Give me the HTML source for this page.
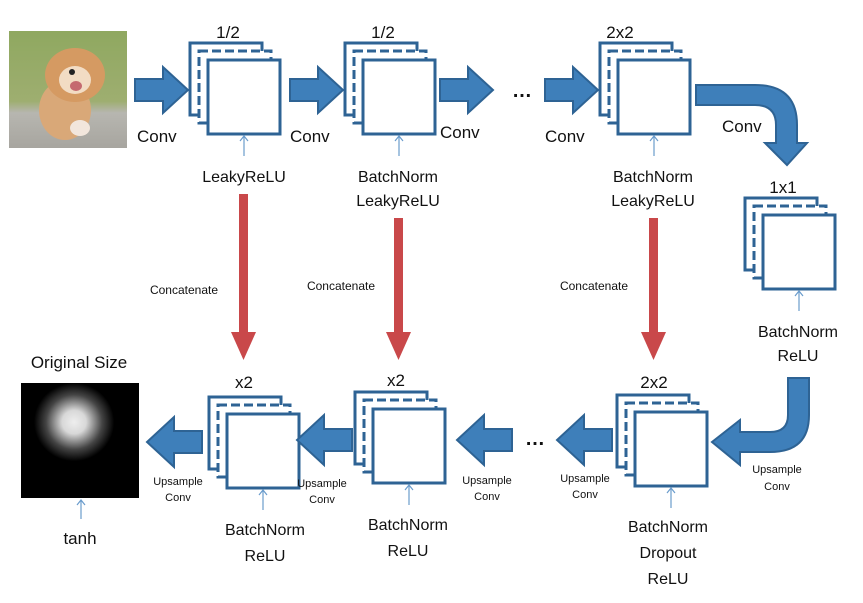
<!DOCTYPE html>
<html><head><meta charset="utf-8"><style>
body{margin:0;background:#fff}
svg{display:block}
text{font-family:"Liberation Sans",sans-serif;fill:#111}
</style></head><body>
<svg width="863" height="603" viewBox="0 0 863 603" xmlns="http://www.w3.org/2000/svg">
<defs>
<g id="stk">
<rect x="0" y="0" width="72" height="72" fill="#fff" stroke="#2e6394" stroke-width="3"/>
<rect x="9" y="8" width="72" height="72" fill="#fff" stroke="#2e6394" stroke-width="3" stroke-dasharray="9,4"/>
<rect x="18" y="17" width="72" height="74" fill="#fff" stroke="#2e6394" stroke-width="3"/>
<line x1="54" y1="93" x2="54" y2="113" stroke="#6a9ccc" stroke-width="1.2"/>
<path d="M50,98 L54,93 L58,98" fill="none" stroke="#6a9ccc" stroke-width="1.2"/>
</g>
<path id="ra" d="M0,-11 L28,-11 L28,-23 L53,0 L28,23 L28,11 L0,11 Z" fill="#3e7fba" stroke="#2e6394" stroke-width="2"/>
<path id="la" d="M0,-11 L-28,-11 L-28,-25 L-55,0 L-28,25 L-28,11 L0,11 Z" fill="#3e7fba" stroke="#2e6394" stroke-width="2"/>
<radialGradient id="blur" cx="0.45" cy="0.34" r="0.34">
<stop offset="0" stop-color="#eee"/><stop offset="0.3" stop-color="#d8d8d8"/><stop offset="0.7" stop-color="#444"/><stop offset="1" stop-color="#000"/>
</radialGradient>
<linearGradient id="bg" x1="0" y1="0" x2="0" y2="1">
<stop offset="0" stop-color="#8fa860"/><stop offset="0.6" stop-color="#9eae70"/><stop offset="0.7" stop-color="#b7b6b0"/><stop offset="1" stop-color="#a7a59f"/>
</linearGradient>
</defs>

<!-- photo -->
<rect x="9" y="31" width="118" height="117" fill="url(#bg)"/>
<ellipse cx="65" cy="110" rx="26" ry="30" fill="#d9a878"/>
<ellipse cx="75" cy="75" rx="30" ry="27" fill="#d59a62"/>
<ellipse cx="75" cy="80" rx="16" ry="14" fill="#f2dcc4"/>
<ellipse cx="76" cy="86" rx="6" ry="5" fill="#c56a70"/>
<circle cx="72" cy="72" r="3" fill="#222"/>
<ellipse cx="80" cy="128" rx="10" ry="8" fill="#f2e6dc"/>

<!-- top stacks -->
<use href="#stk" x="190" y="43"/>
<use href="#stk" x="345" y="43"/>
<use href="#stk" x="600" y="43"/>
<use href="#stk" x="745" y="198"/>
<text x="228" y="38" font-size="17" text-anchor="middle">1/2</text>
<text x="383" y="38" font-size="17" text-anchor="middle">1/2</text>
<text x="620" y="38" font-size="17" text-anchor="middle">2x2</text>
<text x="783" y="193" font-size="17" text-anchor="middle">1x1</text>

<use href="#ra" x="135" y="90"/>
<use href="#ra" x="290" y="90"/>
<use href="#ra" x="440" y="90"/>
<use href="#ra" x="545" y="90"/>
<text x="522" y="97" font-size="20" text-anchor="middle" font-weight="bold">…</text>

<text x="137" y="142" font-size="17">Conv</text>
<text x="290" y="142" font-size="17">Conv</text>
<text x="440" y="138" font-size="17">Conv</text>
<text x="545" y="142" font-size="17">Conv</text>
<text x="722" y="132" font-size="17">Conv</text>

<!-- top curve arrow -->
<path d="M696,85 L755,85 Q797,85 797,125 L797,143 L807,143 L787,165 L765,143 L776,143 L776,125 Q776,105 755,105 L696,105 Z" fill="#3e7fba" stroke="#2e6394" stroke-width="2"/>

<text x="244" y="182" font-size="16" text-anchor="middle">LeakyReLU</text>
<text x="398" y="182" font-size="16" text-anchor="middle">BatchNorm</text>
<text x="398" y="206" font-size="16" text-anchor="middle">LeakyReLU</text>
<text x="653" y="182" font-size="16" text-anchor="middle">BatchNorm</text>
<text x="653" y="206" font-size="16" text-anchor="middle">LeakyReLU</text>
<text x="798" y="337" font-size="16" text-anchor="middle">BatchNorm</text>
<text x="798" y="361" font-size="16" text-anchor="middle">ReLU</text>

<!-- red arrows -->
<g fill="#c9484a">
<rect x="239" y="194" width="9" height="140"/><path d="M231,332 L256,332 L243.5,360 Z"/>
<rect x="394" y="218" width="9" height="116"/><path d="M386,332 L411,332 L398.5,360 Z"/>
<rect x="649" y="218" width="9" height="116"/><path d="M641,332 L666,332 L653.5,360 Z"/>
</g>
<text x="184" y="294" font-size="12" text-anchor="middle">Concatenate</text>
<text x="341" y="290" font-size="12" text-anchor="middle">Concatenate</text>
<text x="594" y="290" font-size="12" text-anchor="middle">Concatenate</text>

<!-- bottom right curve -->
<path d="M809,378 L809,415 Q809,452 770,452 L740,452 L740,465 L712,442 L740,420 L740,432 L770,432 Q788,432 788,415 L788,378 Z" fill="#3e7fba" stroke="#2e6394" stroke-width="2"/>
<text x="777" y="473" font-size="11" text-anchor="middle" fill="#333">Upsample</text>
<text x="777" y="490" font-size="11" text-anchor="middle" fill="#333">Conv</text>

<!-- bottom stacks -->
<use href="#stk" x="617" y="395"/>
<use href="#stk" x="355" y="392"/>
<use href="#stk" x="209" y="397"/>
<text x="654" y="388" font-size="17" text-anchor="middle">2x2</text>
<text x="396" y="386" font-size="17" text-anchor="middle">x2</text>
<text x="244" y="388" font-size="17" text-anchor="middle">x2</text>

<use href="#la" x="612" y="440"/>
<use href="#la" x="512" y="440"/>
<use href="#la" x="352" y="440"/>
<use href="#la" x="202" y="442"/>
<text x="535" y="445" font-size="20" text-anchor="middle" font-weight="bold">…</text>

<g font-size="11" text-anchor="middle">
<text x="585" y="482" fill="#333">Upsample</text><text x="585" y="498" fill="#333">Conv</text>
<text x="487" y="484" fill="#333">Upsample</text><text x="487" y="500" fill="#333">Conv</text>
<text x="322" y="487" fill="#333">Upsample</text><text x="322" y="503" fill="#333">Conv</text>
<text x="178" y="485" fill="#333">Upsample</text><text x="178" y="501" fill="#333">Conv</text>
</g>

<text x="668" y="532" font-size="16" text-anchor="middle">BatchNorm</text>
<text x="668" y="558" font-size="16" text-anchor="middle">Dropout</text>
<text x="668" y="584" font-size="16" text-anchor="middle">ReLU</text>
<text x="408" y="530" font-size="16" text-anchor="middle">BatchNorm</text>
<text x="408" y="556" font-size="16" text-anchor="middle">ReLU</text>
<text x="265" y="535" font-size="16" text-anchor="middle">BatchNorm</text>
<text x="265" y="561" font-size="16" text-anchor="middle">ReLU</text>

<!-- output image -->
<text x="79" y="368" font-size="17" text-anchor="middle">Original Size</text>
<rect x="21" y="383" width="118" height="115" fill="url(#blur)"/>
<line x1="81" y1="500" x2="81" y2="519" stroke="#6a9ccc" stroke-width="1.2"/>
<path d="M77,505 L81,500 L85,505" fill="none" stroke="#6a9ccc" stroke-width="1.2"/>
<text x="80" y="544" font-size="17" text-anchor="middle">tanh</text>
</svg>
</body></html>
